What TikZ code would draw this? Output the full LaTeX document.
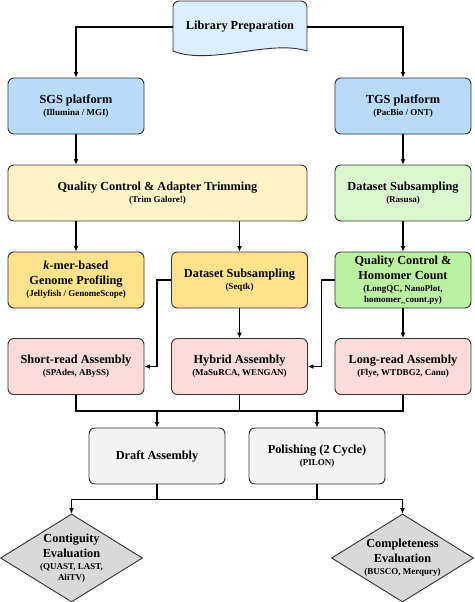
\documentclass[tikz,border=0pt]{standalone}
\usepackage{fontspec}
\setmainfont{Liberation Serif}
\usetikzlibrary{shapes.geometric,arrows.meta}

\definecolor{libblue}{HTML}{DCEEFD}
\definecolor{platblue}{HTML}{B9DBFA}
\definecolor{qcyellow}{HTML}{FFF3C8}
\definecolor{stepyellow}{HTML}{FEE38C}
\definecolor{subgreen}{HTML}{D9F6CF}
\definecolor{qcgreen}{HTML}{BAF0A2}
\definecolor{asmpink}{HTML}{FBDADA}
\definecolor{draftgray}{HTML}{F4F4F4}
\definecolor{evalgray}{HTML}{D9D9D9}
\definecolor{edgegray}{HTML}{333333}

\newcommand{\tools}[1]{{\fontsize{9}{10.5}\selectfont #1}}

\tikzset{
  flowbox/.style={draw=edgegray, line width=0.9pt, rounded corners=6pt,
    minimum width=136pt, minimum height=56pt, inner sep=2pt, align=center,
    font=\bfseries\fontsize{12.3}{15}\selectfont},
  evalbox/.style={diamond, draw=edgegray, line width=0.9pt, fill=evalgray,
    minimum width=142pt, minimum height=88pt, aspect=1.6, inner sep=-8pt,
    align=center, font=\bfseries\fontsize{12.3}{14.5}\selectfont},
  link/.style={line width=1.8pt},
  arr/.style={link, -{Latex[length=5.5pt,width=5pt]}},
}

\begin{document}
\begin{tikzpicture}[x=1pt,y=-1pt]
\useasboundingbox (0,0) rectangle (474,602);

%column info
\def\colL{76}
\def\colM{239.5}
\def\colR{403}
%library shape
\coordinate (libSW) at (173,51);
\coordinate (libNW) at (173,1);
\coordinate (libNE) at (307,1);
\coordinate (libSE) at (307,51);
\filldraw[draw=edgegray, line width=0.9pt, fill=libblue]
  (libSW) [rounded corners=6pt] -- (libNW) -- (libNE) [sharp corners] -- (libSE)
  .. controls +(-37,-12) and +(37,15) .. (libSW) -- cycle;
\node[minimum width=134pt, minimum height=50pt, inner sep=0pt,
  font=\bfseries\fontsize{12.3}{15}\selectfont] (lib) at (240,27) {Library Preparation};

%nodes
\node[flowbox, fill=platblue] (sgs) at (\colL,106) {SGS platform\\[-3pt]\tools{(Illumina / MGI)}};
\node[flowbox, fill=platblue] (tgs) at (\colR,106) {TGS platform\\[-3pt]\tools{(PacBio / ONT)}};
\node[flowbox, fill=qcyellow, minimum width=299pt] (qc) at (157.5,193) {Quality Control \& Adapter Trimming\\[-3pt]\tools{(Trim Galore!)}};
\node[flowbox, fill=subgreen] (rasusa) at (\colR,193) {Dataset Subsampling\\[-3pt]\tools{(Rasusa)}};
\node[flowbox, fill=stepyellow] (kmer) at (\colL,280) {\textit{k}-mer-based\\Genome Profiling\\[-3pt]\tools{(Jellyfish / GenomeScope)}};
\node[flowbox, fill=stepyellow] (seqtk) at (\colM,280) {Dataset Subsampling\\[-3pt]\tools{(Seqtk)}};
\node[flowbox, fill=qcgreen] (homqc) at (\colR,280) {Quality Control \&\\Homomer Count\\[-3pt]\tools{(LongQC, NanoPlot,}\\[-4pt]\tools{homomer\_count.py)}};
\node[flowbox, fill=asmpink] (short) at (\colL,366.5) {Short-read Assembly\\[-3pt]\tools{(SPAdes, ABySS)}};
\node[flowbox, fill=asmpink] (hybrid) at (\colM,366.5) {Hybrid Assembly\\[-3pt]\tools{(MaSuRCA, WENGAN)}};
\node[flowbox, fill=asmpink] (long) at (\colR,366.5) {Long-read Assembly\\[-3pt]\tools{(Flye, WTDBG2, Canu)}};
\node[flowbox, fill=draftgray] (draft) at (157,456) {Draft Assembly};
\node[flowbox, fill=draftgray] (polish) at (317,456) {Polishing (2 Cycle)\\[-3pt]\tools{(PILON)}};
\node[evalbox] (contig) at (71.5,558) {Contiguity\\Evaluation\\[-2pt]\tools{(QUAST, LAST,}\\[-4pt]\tools{AliTV)}};
\node[evalbox] (compl) at (402.5,558) {Completeness\\Evaluation\\[-2pt]\tools{(BUSCO, Merqury)}};

%draw arrows
\draw[arr] (lib.west) -| (sgs.north);
\draw[arr] (lib.east) -| (tgs.north);
\draw[arr] (sgs.south) -- (sgs.south |- qc.north);
\draw[arr] (tgs.south) -- (rasusa.north);
\draw[arr] (kmer.north |- qc.south) -- (kmer.north);
\draw[arr] (seqtk.north |- qc.south) -- (seqtk.north);
\draw[arr] (rasusa.south) -- (homqc.north);
\draw[arr] (seqtk.west) -- ++(-14,0) |- (short.east);
\draw[arr] (homqc.west) -- ++(-13,0) |- (hybrid.east);
\draw[arr] (seqtk.south) -- (hybrid.north);
\draw[arr] (homqc.south) -- (long.north);
%merge into draft and polishing
\draw[link] (short.south) -- ++(0,16) coordinate (mrg) -| (long.south);
\draw[link] (hybrid.south) -- (hybrid.south |- mrg);
\draw[arr] (draft.north |- mrg) -- (draft.north);
\draw[arr] (polish.north |- mrg) -- (polish.north);
%split into evaluation
\draw[link] (draft.south) -- ++(0,15) coordinate (spl);
\draw[link] (polish.south) -- (polish.south |- spl);
\draw[link] (contig.north |- spl) -- (compl.north |- spl);
\draw[arr] (contig.north |- spl) -- (contig.north);
\draw[arr] (compl.north |- spl) -- (compl.north);

\end{tikzpicture}
\end{document}
